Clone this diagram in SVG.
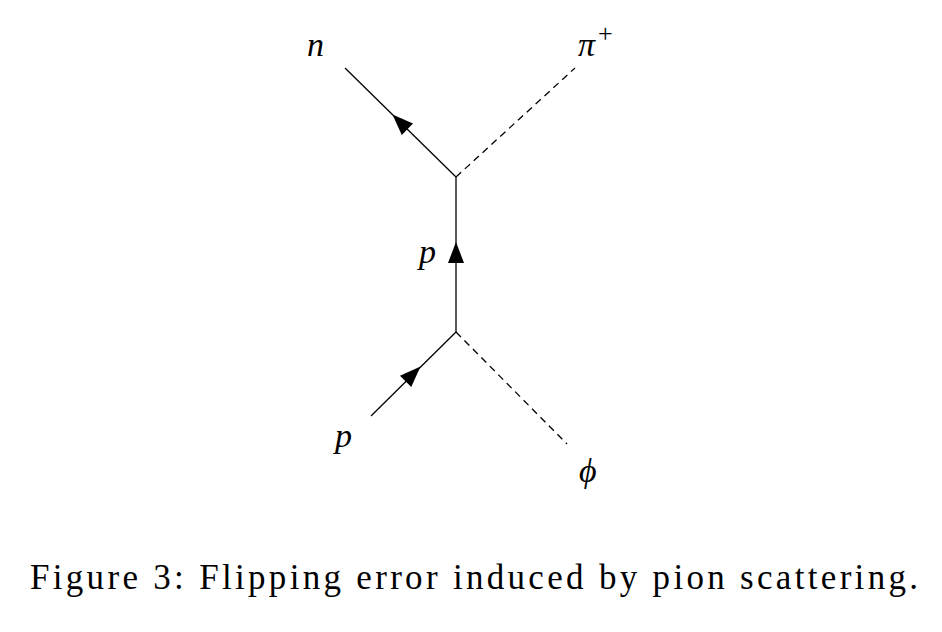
<svg xmlns="http://www.w3.org/2000/svg" width="942" height="632" viewBox="0 0 942 632">
<style>
.l{stroke:#000;stroke-width:1.3;fill:none}
.d{stroke:#000;stroke-width:1.3;fill:none;stroke-dasharray:7 5}
.t{font-family:"Liberation Serif",serif;font-style:italic;font-size:34px}
.c{font-family:"Liberation Serif",serif;font-size:35px}
</style>
<defs><polygon id="ar" points="12,0 -9,-8 -9,8" fill="#000"/></defs>
<rect width="942" height="632" fill="#fff"/>
<g id="connectors">
<line class="l" x1="456" y1="177" x2="345" y2="68"/>
<line class="d" x1="456" y1="177" x2="575" y2="68"/>
<line class="l" x1="456" y1="332" x2="456" y2="177"/>
<line class="l" x1="371" y1="416" x2="456" y2="332"/>
<line class="d" x1="456" y1="332" x2="567" y2="444"/>
<use href="#ar" transform="translate(401,123) rotate(-135.5)"/>
<use href="#ar" transform="translate(456,254) rotate(-90)"/>
<use href="#ar" transform="translate(412,375) rotate(-44.7)"/>
</g>
<g id="n"><text class="t" x="307" y="56">n</text></g>
<g id="pi"><text class="t" x="578" y="56">π</text><text x="598" y="42" style="font-family:'Liberation Serif',serif;font-size:26px">+</text></g>
<g id="p1"><text class="t" x="419" y="263">p</text></g>
<g id="p2"><text class="t" x="335" y="447">p</text></g>
<g id="phi"><text class="t" x="579" y="482">ϕ</text></g>
<g id="caption"><text class="c" x="30" y="589" textLength="888" lengthAdjust="spacing">Figure 3: Flipping error induced by pion scattering.</text></g>
</svg>
